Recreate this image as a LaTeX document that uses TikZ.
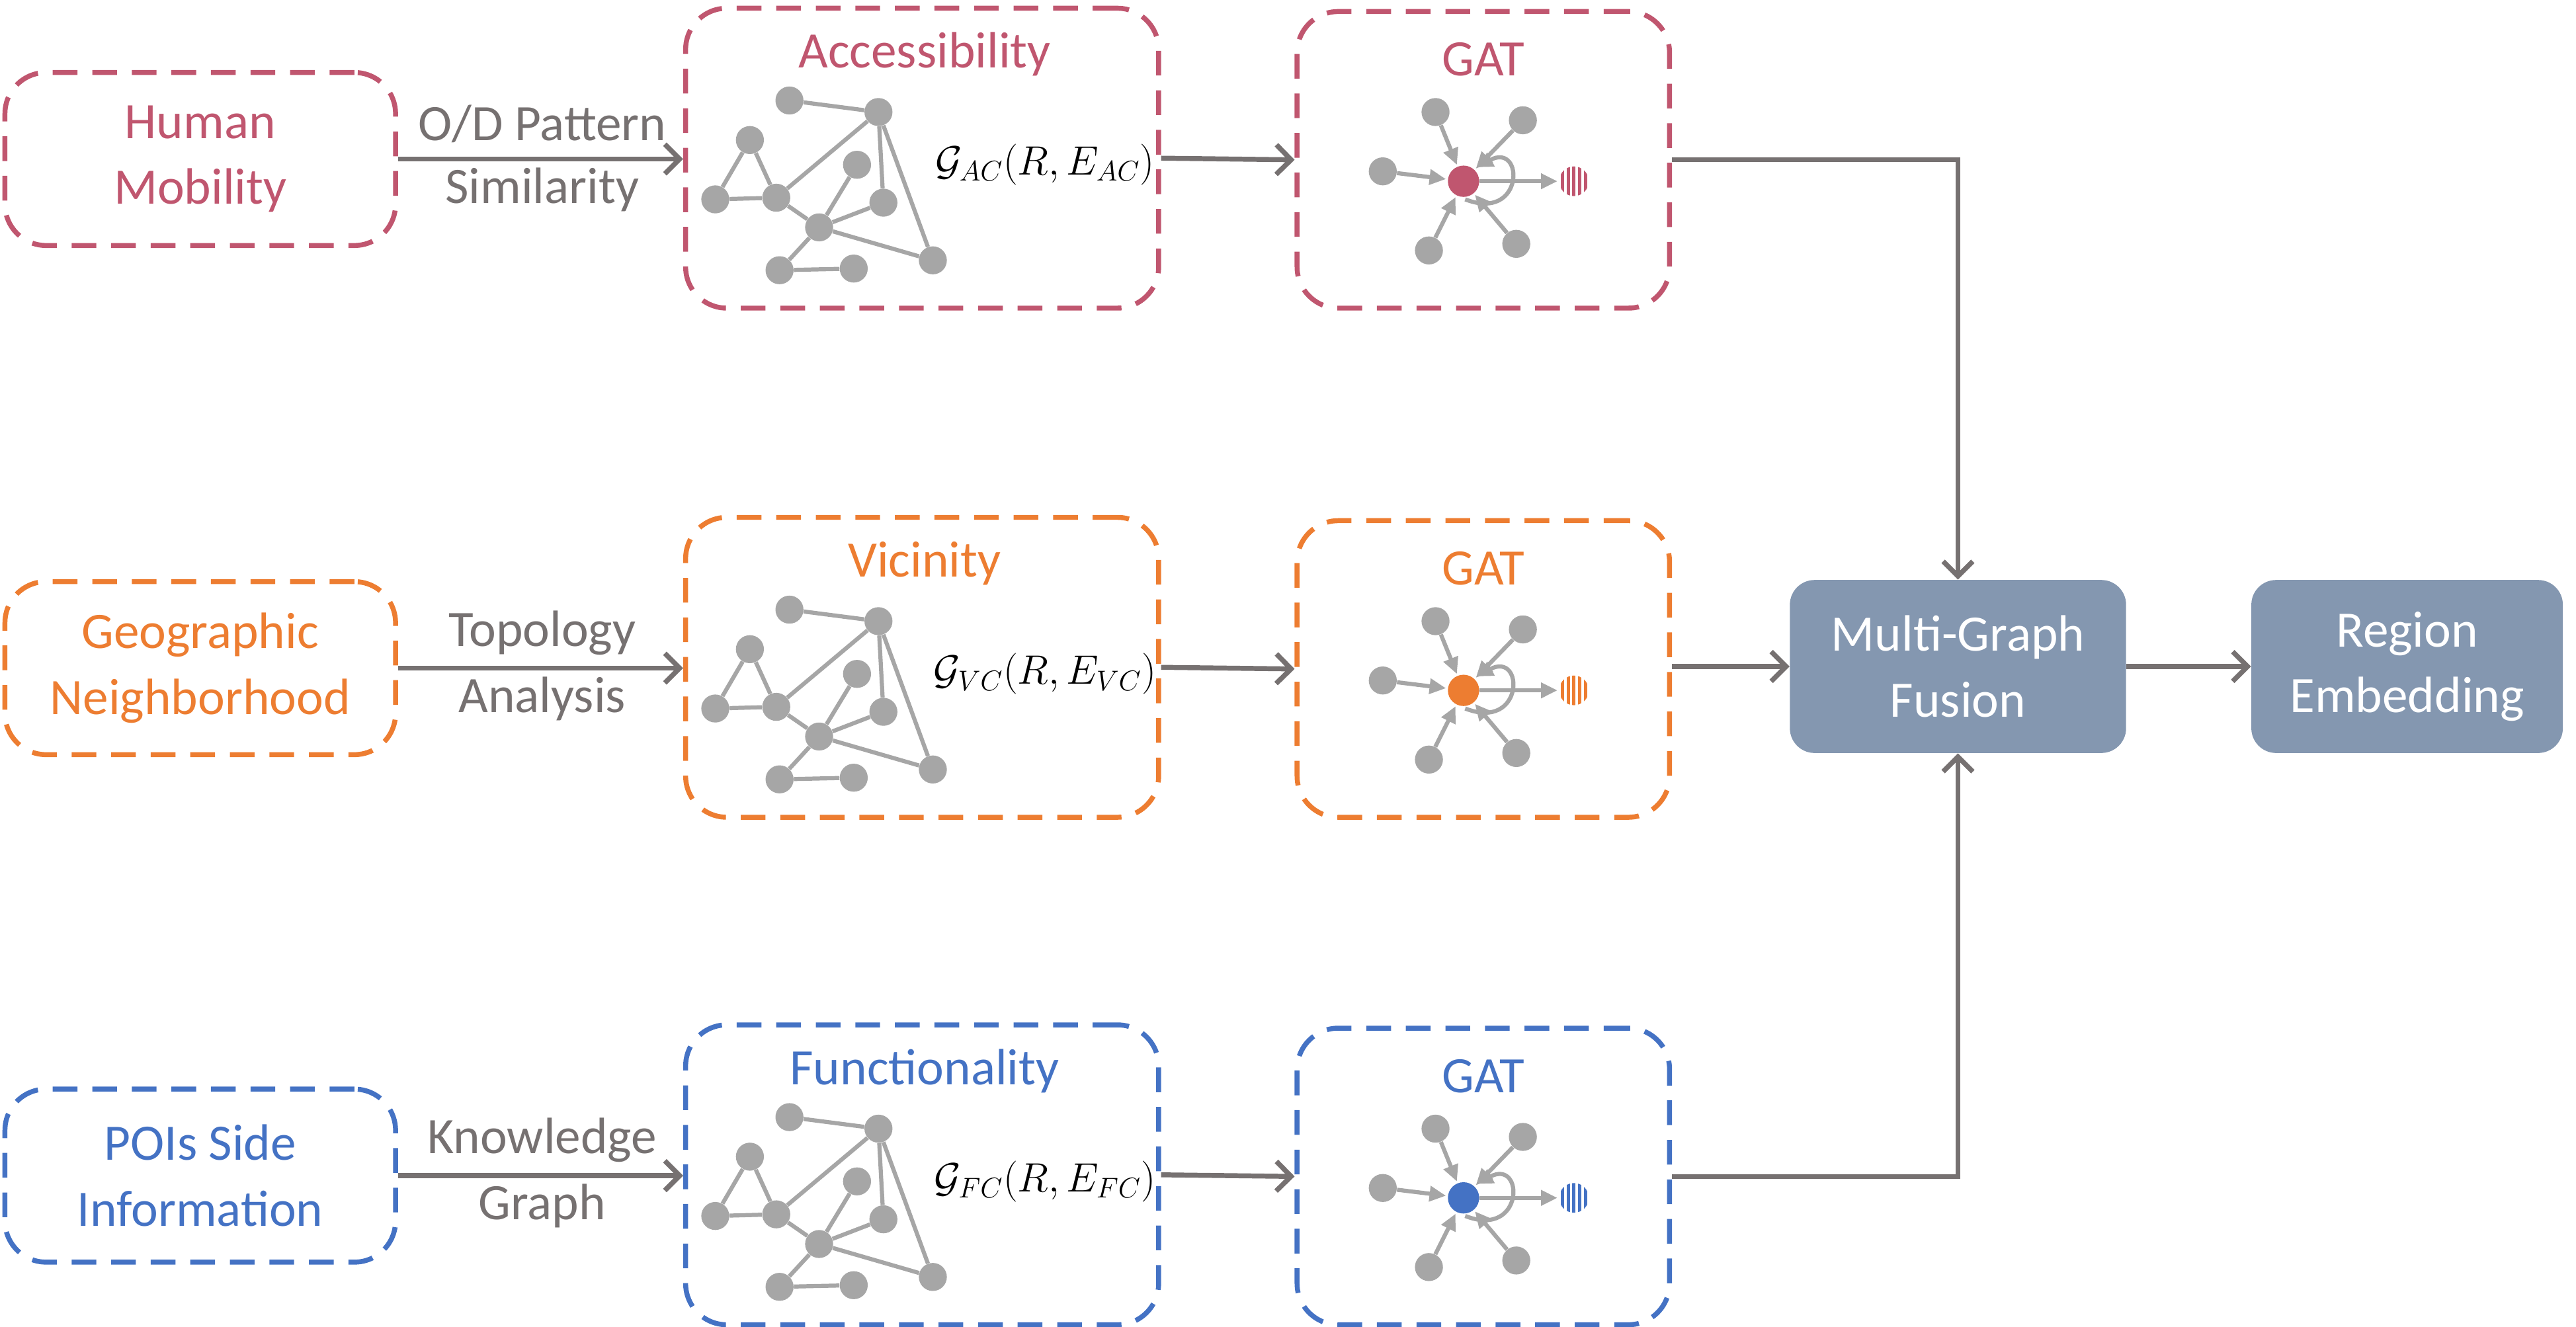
\documentclass[tikz,border=0pt]{standalone}
\usepackage{fontspec}
\setmainfont{Carlito}
\usetikzlibrary{arrows.meta,calc}
\definecolor{cpink}{HTML}{C0566F}
\definecolor{corange}{HTML}{ED7D31}
\definecolor{cblue}{HTML}{4472C4}
\definecolor{cgray}{HTML}{767171}
\definecolor{ggray}{HTML}{A6A6A6}
\definecolor{cfuse}{HTML}{8497B0}
\tikzset{
 dbox/.style={draw=#1,dash pattern=on 15pt off 9pt,line width=3pt,rounded corners=25pt},
 txt/.style={font=\fontsize{31}{40}\selectfont,align=center},
 flow/.style={draw=cgray,line width=3pt,-{Straight Barb[length=9pt,width=18pt,line width=3pt]}},
 gn/.style={circle,fill=ggray,inner sep=0pt,minimum size=17pt},
 ge/.style={draw=ggray,line width=2.5pt},
 ga/.style={draw=ggray,line width=2.5pt,-{Triangle[length=10pt,width=9pt]},shorten >=1pt},
 fuse/.style={fill=cfuse,rounded corners=15pt,text=white,txt}
}
\begin{document}
\begin{tikzpicture}[x=1pt,y=-1pt]
\useasboundingbox (0,0) rectangle (1563,805);
\foreach \r/\c/\dy/\la/\lb/\lc/\gt/\sub in {
 1/cpink/0/{Human\\Mobility}/{O/D Pattern}/Similarity/Accessibility/AC,
 2/corange/309/{Geographic\\Neighborhood}/Topology/Analysis/Vicinity/VC,
 3/cblue/617/{POIs Side\\Information}/Knowledge/Graph/Functionality/FC}{
 \node[dbox=\c,minimum width=237pt,minimum height=105pt,txt,text=\c] (L\r) at (121.5,96.5+\dy) {\la};
 \node[dbox=\c,minimum width=287pt,minimum height=182pt] (G\r) at (559.5,96+\dy) {};
 \node[dbox=\c,minimum width=226pt,minimum height=180pt] (T\r) at (900,97+\dy) {};
 \node[txt,text=\c] (Gt\r) at (561,33+\dy) {\gt};
 \node[txt,text=\c] (Tt\r) at (900,36+\dy) {GAT};
 \node[txt,text=cgray] (la\r) at (329,75+\dy) {\lb};
 \node[txt,text=cgray] (lb\r) at (329,115+\dy) {\lc};
 \draw[flow] (L\r.east) -- (G\r.west |- L\r.east);
 \draw[flow] (G\r.east) -- (T\r.west);
 \node[font=\fontsize{23}{28}\selectfont] (m\r) at (634,100+\dy) {$\mathcal{G}_{\sub}(R,E_{\sub})$};
 % graph
 \foreach \i/\x/\y in {1/479/61,2/533/68,3/455/85,4/520/100,5/434/121,6/471/120,7/536/123,8/497/138,9/566/158,10/473/164,11/518/163}
   \node[gn] (g\r-\i) at (\x,\y+\dy) {};
 \foreach \a/\b in {1/2,2/6,2/7,2/9,3/5,3/6,5/6,6/8,4/8,7/8,8/9,8/10,10/11}
   \draw[ge] (g\r-\a) -- (g\r-\b);
 % GAT
 \node[circle,fill=\c,inner sep=0pt,minimum size=19pt] (c\r) at (888,110+\dy) {};
 \foreach \i/\x/\y in {1/871/68,2/924/73,3/839/104,4/867/152,5/920/148}{
   \node[gn] (h\r-\i) at (\x,\y+\dy) {};
   \draw[ga] (h\r-\i) -- (c\r);
 }
 \draw[ga] ([shift={(1,11)}]c\r.center) .. controls +(36,14) and +(30,-16) .. ([shift={(7,-8)}]c\r.center);
 \coordinate (o\r) at (955,110+\dy);
 \draw[ga] (c\r) -- ([xshift=-9pt]o\r);
 \begin{scope}
  \clip (o\r) circle (9pt);
  \fill[white] (o\r) circle (9pt);
  \foreach \k in {-8,-4.5,-1,2.5,6}
    \fill[\c] ([xshift=\k pt,yshift=-10pt]o\r) rectangle ([xshift=\k pt+2pt,yshift=10pt]o\r);
 \end{scope}
}
\node[fuse,minimum width=204pt,minimum height=105pt] (F) at (1188,404.5) {Multi-Graph\\Fusion};
\node[fuse,minimum width=189pt,minimum height=105pt] (R) at (1460.5,404.5) {Region\\Embedding};
\draw[flow] (T1.east) -| (F.north);
\draw[flow] (T2.east |- F.west) -- (F.west);
\draw[flow] (T3.east) -| (F.south);
\draw[flow] (F) -- (R);
\end{tikzpicture}
\end{document}
